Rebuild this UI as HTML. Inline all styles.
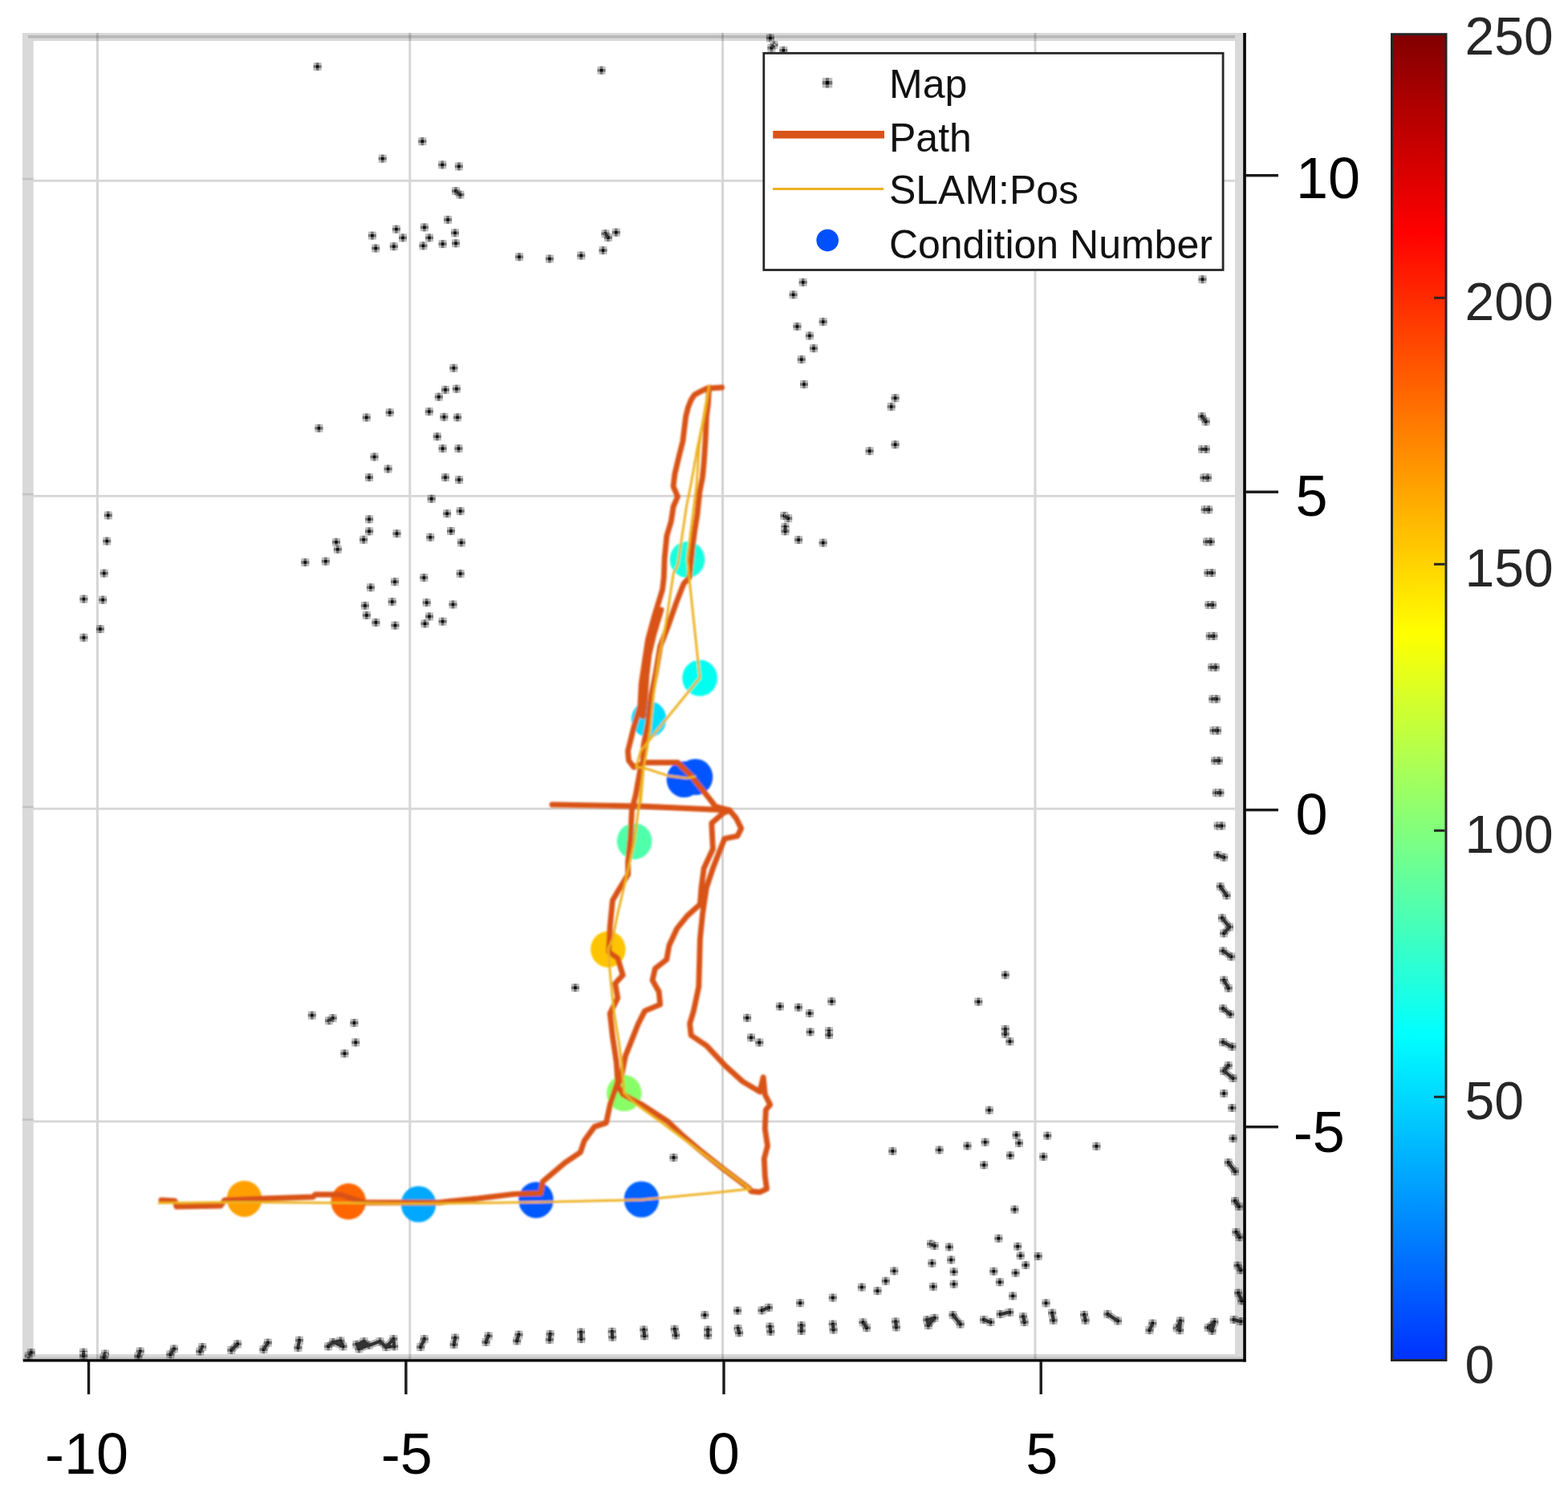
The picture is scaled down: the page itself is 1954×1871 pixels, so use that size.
<!DOCTYPE html><html><head><meta charset="utf-8"><style>html,body{margin:0;padding:0;background:#fff;overflow:hidden}svg{display:block}</style></head><body><svg width="1954" height="1871" viewBox="0 0 1954 1871">
<defs>
<linearGradient id="cb" gradientUnits="userSpaceOnUse" x1="0" y1="1699.3" x2="0" y2="39.3">
<stop offset="0" stop-color="#002fff"/>
<stop offset="0.2464" stop-color="#00ffff"/>
<stop offset="0.548" stop-color="#ffff00"/>
<stop offset="0.850" stop-color="#ff0000"/>
<stop offset="1" stop-color="#800000"/>
</linearGradient>
<g id="d"><rect x="-5" y="-5" width="10" height="10" fill="#c0c0c0"/><rect x="-5" y="-1.7" width="10" height="3.4" fill="#747474"/><rect x="-1.7" y="-5" width="3.4" height="10" fill="#747474"/><rect x="-1.7" y="-1.7" width="3.4" height="3.4" fill="#000"/></g>
<filter id="bl2" x="-2%" y="-2%" width="104%" height="104%"><feGaussianBlur stdDeviation="0.8"/></filter>
<filter id="bl" x="-5%" y="-5%" width="110%" height="110%"><feGaussianBlur stdDeviation="0.7"/></filter>
</defs>
<rect width="1954" height="1871" fill="#fff"/>
<rect x="28" y="41" width="13.7" height="1654" fill="#d9d9d9"/>
<rect x="28" y="41" width="1521" height="10" fill="#d9d9d9"/>
<rect x="35" y="44" width="1511" height="3.6" fill="#b8b8b8"/>
<rect x="1539" y="41" width="10" height="1654" fill="#d9d9d9"/>
<rect x="28" y="1688" width="1521" height="7" fill="#d9d9d9"/>
<rect x="28" y="1691.5" width="1521" height="3" fill="#c4c4c4"/>
<g style="mix-blend-mode:multiply">
<rect x="119.9" y="41" width="3" height="1653" fill="#d6d6d6"/>
<rect x="509.3" y="41" width="3" height="1653" fill="#d6d6d6"/>
<rect x="899.0" y="41" width="3" height="1653" fill="#d6d6d6"/>
<rect x="1288.5" y="41" width="3" height="1653" fill="#d6d6d6"/>
<rect x="41.7" y="223.9" width="1497.3" height="2.8" fill="#d6d6d6"/>
<rect x="28" y="221.8" width="13.7" height="2.6" fill="#e4e4e4"/>
<rect x="41.7" y="616.9" width="1497.3" height="2.8" fill="#d6d6d6"/>
<rect x="28" y="614.8" width="13.7" height="2.6" fill="#e4e4e4"/>
<rect x="41.7" y="1006.7" width="1497.3" height="2.8" fill="#d6d6d6"/>
<rect x="28" y="1004.6" width="13.7" height="2.6" fill="#e4e4e4"/>
<rect x="41.7" y="1396.5" width="1497.3" height="2.8" fill="#d6d6d6"/>
<rect x="28" y="1394.4" width="13.7" height="2.6" fill="#e4e4e4"/>
</g>
<g filter="url(#bl)" style="mix-blend-mode:multiply">
<path d="M568.0 238.1L573.4 242.7 M754.4 291.3L757.9 296.1 M964.5 56.1L961.4 59.7 M977.4 642.9L982.2 646.1 M978.5 656.8L978.5 662.2 M410.0 1272.3L414.7 1269.1 M1033.1 1285.2L1033.1 1290.1 M1252.8 1282.9L1252.8 1289.0 M35.7 1689.9L38.8 1686.0 M104.1 1685.6L104.1 1690.0 M131.0 1687.6L129.4 1692.0 M174.7 1684.5L172.4 1690.6 M216.9 1681.4L212.3 1688.3 M252.2 1679.1L249.2 1684.5 M296.0 1675.3L288.3 1683.0 M333.8 1673.7L328.4 1682.2 M373.0 1670.7L371.4 1679.9 M409.1 1678.3L415.2 1673.0 M415.2 1673.0L424.4 1671.4 M415.2 1673.0L427.5 1678.3 M424.4 1671.4L427.5 1678.3 M444.4 1676.0L453.6 1672.2 M444.4 1676.0L459.7 1676.8 M444.4 1676.0L447.4 1681.4 M453.6 1672.2L459.7 1676.8 M453.6 1672.2L447.4 1681.4 M459.7 1676.8L447.4 1681.4 M459.7 1676.8L473.5 1672.2 M473.5 1672.2L481.2 1679.1 M481.2 1679.1L490.4 1669.1 M481.2 1679.1L491.2 1678.3 M490.4 1669.1L491.2 1678.3 M528.8 1669.1L524.2 1679.1 M567.2 1667.6L565.7 1676.0 M608.7 1665.3L605.6 1673.0 M646.5 1663.7L644.2 1671.4 M685.6 1663.0L684.9 1669.9 M724.0 1660.6L724.3 1669.1 M762.7 1659.9L763.2 1666.8 M802.3 1657.6L803.1 1665.3 M840.7 1656.8L842.2 1664.5 M882.2 1657.6L882.2 1664.5 M949.5 1633.4L958.0 1629.9 M919.6 1656.0L921.1 1661.3 M959.5 1653.7L960.3 1659.8 M998.7 1652.1L998.7 1659.0 M1037.8 1650.6L1038.6 1657.5 M1075.4 1648.3L1080.0 1655.2 M1116.1 1647.5L1116.9 1654.4 M1155.3 1645.2L1156.8 1652.1 M1155.3 1645.2L1164.5 1642.9 M1156.8 1652.1L1164.5 1642.9 M1187.5 1639.1L1196.7 1650.6 M1160.0 1550.6L1164.6 1552.9 M1226.0 1645.0L1234.4 1648.1 M1246.7 1638.1L1258.2 1635.8 M1275.1 1641.2L1276.6 1648.1 M1311.2 1636.6L1312.7 1645.8 M1351.1 1638.9L1352.6 1645.8 M1380.3 1638.1L1393.0 1646.5 M1432.5 1658.1L1436.3 1649.6 M1530.7 1449.0L1539.0 1460.2 M1539.0 1497.0L1543.9 1503.9 M1540.4 1535.9L1544.6 1542.2 M1542.5 1577.6L1546.0 1583.2 M1543.2 1611.7L1547.3 1621.4 M1537.6 1645.0L1546.0 1647.1 M1470.9 1646.4L1466.7 1655.5 M1470.9 1646.4L1470.2 1658.2 M1466.7 1655.5L1470.2 1658.2 M1513.3 1647.8L1505.6 1654.8 M1513.3 1647.8L1510.5 1658.9 M1505.6 1654.8L1510.5 1658.9 M1517.4 1065.8L1525.2 1068.7 M1520.8 1105.0L1528.6 1116.3 M1523.0 1144.3L1532.0 1155.5 M1532.0 1155.5L1525.2 1163.4 M1524.1 1185.4L1534.2 1192.5 M1525.2 1221.7L1530.8 1231.8 M1524.1 1257.1L1533.1 1264.3 M1524.1 1299.1L1535.3 1304.7 M1530.8 1328.2L1525.2 1335.0 M1525.2 1335.0L1536.5 1344.0 M1497.8 519.1L1502.7 525.5 M1500.5 560.0L1498.2 560.0 M1500.5 560.0L1502.8 560.0 M1502.7 595.5L1500.4 595.5 M1502.7 595.5L1505.0 595.5 M1501.7 635.3L1506.3 635.3 M1504.1 675.3L1508.7 675.3 M1505.5 714.1L1510.1 714.1 M1506.4 754.1L1511.0 754.1 M1507.8 792.9L1512.4 792.9 M1510.2 831.8L1514.8 831.8 M1511.3 871.3L1515.9 871.3 M1512.5 910.6L1517.1 910.6 M1514.2 948.2L1518.8 948.2 M1515.8 988.2L1520.4 988.2 M1517.7 1029.4L1522.3 1029.4 M1498.2 560.0L1502.8 560.0 M1500.4 595.5L1505.0 595.5" stroke="#b4b4b4" stroke-width="9" fill="none"/>
<use href="#d" x="395.6" y="83.0"/>
<use href="#d" x="526.3" y="176.2"/>
<use href="#d" x="476.7" y="197.7"/>
<use href="#d" x="551.2" y="205.4"/>
<use href="#d" x="571.9" y="207.4"/>
<use href="#d" x="568.0" y="238.1"/>
<use href="#d" x="573.4" y="242.7"/>
<use href="#d" x="558.1" y="273.9"/>
<use href="#d" x="528.9" y="283.4"/>
<use href="#d" x="493.9" y="285.7"/>
<use href="#d" x="463.9" y="293.7"/>
<use href="#d" x="502.0" y="296.4"/>
<use href="#d" x="567.0" y="290.3"/>
<use href="#d" x="535.0" y="296.4"/>
<use href="#d" x="468.2" y="309.5"/>
<use href="#d" x="490.8" y="307.2"/>
<use href="#d" x="527.4" y="306.4"/>
<use href="#d" x="551.6" y="304.1"/>
<use href="#d" x="568.0" y="303.3"/>
<use href="#d" x="647.1" y="320.2"/>
<use href="#d" x="749.5" y="87.7"/>
<use href="#d" x="754.4" y="291.3"/>
<use href="#d" x="757.9" y="296.1"/>
<use href="#d" x="767.8" y="289.7"/>
<use href="#d" x="751.5" y="312.1"/>
<use href="#d" x="724.2" y="318.6"/>
<use href="#d" x="684.9" y="322.6"/>
<use href="#d" x="959.9" y="47.4"/>
<use href="#d" x="964.5" y="56.1"/>
<use href="#d" x="961.4" y="59.7"/>
<use href="#d" x="976.3" y="62.8"/>
<use href="#d" x="1000.7" y="351.9"/>
<use href="#d" x="988.6" y="367.4"/>
<use href="#d" x="1025.7" y="401.1"/>
<use href="#d" x="993.4" y="407.0"/>
<use href="#d" x="1008.9" y="418.5"/>
<use href="#d" x="1014.0" y="434.2"/>
<use href="#d" x="998.8" y="448.1"/>
<use href="#d" x="1002.0" y="479.1"/>
<use href="#d" x="1115.6" y="496.2"/>
<use href="#d" x="1110.7" y="506.9"/>
<use href="#d" x="1083.6" y="562.2"/>
<use href="#d" x="1115.6" y="554.2"/>
<use href="#d" x="977.4" y="642.9"/>
<use href="#d" x="982.2" y="646.1"/>
<use href="#d" x="978.5" y="656.8"/>
<use href="#d" x="978.5" y="662.2"/>
<use href="#d" x="995.1" y="672.9"/>
<use href="#d" x="1025.7" y="676.6"/>
<use href="#d" x="565.4" y="458.8"/>
<use href="#d" x="555.0" y="485.9"/>
<use href="#d" x="568.9" y="484.7"/>
<use href="#d" x="546.8" y="494.7"/>
<use href="#d" x="534.8" y="513.0"/>
<use href="#d" x="553.4" y="519.8"/>
<use href="#d" x="570.1" y="520.3"/>
<use href="#d" x="485.7" y="514.2"/>
<use href="#d" x="456.7" y="520.4"/>
<use href="#d" x="397.4" y="533.8"/>
<use href="#d" x="544.8" y="544.2"/>
<use href="#d" x="551.6" y="559.1"/>
<use href="#d" x="571.5" y="559.1"/>
<use href="#d" x="466.5" y="569.5"/>
<use href="#d" x="483.6" y="584.5"/>
<use href="#d" x="460.0" y="595.1"/>
<use href="#d" x="555.0" y="595.1"/>
<use href="#d" x="572.1" y="598.0"/>
<use href="#d" x="537.7" y="621.8"/>
<use href="#d" x="557.1" y="640.2"/>
<use href="#d" x="573.7" y="637.1"/>
<use href="#d" x="460.1" y="647.2"/>
<use href="#d" x="460.1" y="662.3"/>
<use href="#d" x="494.5" y="665.1"/>
<use href="#d" x="562.0" y="662.0"/>
<use href="#d" x="536.2" y="669.7"/>
<use href="#d" x="574.9" y="676.4"/>
<use href="#d" x="453.1" y="672.7"/>
<use href="#d" x="419.0" y="675.8"/>
<use href="#d" x="420.8" y="684.8"/>
<use href="#d" x="380.3" y="701.0"/>
<use href="#d" x="405.8" y="699.7"/>
<use href="#d" x="573.7" y="715.1"/>
<use href="#d" x="528.3" y="720.0"/>
<use href="#d" x="492.0" y="725.2"/>
<use href="#d" x="461.9" y="732.3"/>
<use href="#d" x="488.7" y="750.1"/>
<use href="#d" x="454.9" y="755.0"/>
<use href="#d" x="531.7" y="751.1"/>
<use href="#d" x="564.5" y="753.5"/>
<use href="#d" x="456.8" y="767.0"/>
<use href="#d" x="468.4" y="775.9"/>
<use href="#d" x="492.4" y="779.6"/>
<use href="#d" x="535.0" y="768.5"/>
<use href="#d" x="529.5" y="777.4"/>
<use href="#d" x="551.6" y="774.7"/>
<use href="#d" x="134.8" y="642.4"/>
<use href="#d" x="133.2" y="674.5"/>
<use href="#d" x="129.7" y="714.6"/>
<use href="#d" x="104.4" y="746.7"/>
<use href="#d" x="128.1" y="747.7"/>
<use href="#d" x="124.9" y="784.1"/>
<use href="#d" x="104.4" y="794.8"/>
<use href="#d" x="388.8" y="1265.6"/>
<use href="#d" x="410.0" y="1272.3"/>
<use href="#d" x="414.7" y="1269.1"/>
<use href="#d" x="441.4" y="1275.0"/>
<use href="#d" x="443.2" y="1299.4"/>
<use href="#d" x="429.4" y="1313.2"/>
<use href="#d" x="931.1" y="1268.8"/>
<use href="#d" x="971.9" y="1254.5"/>
<use href="#d" x="995.0" y="1255.7"/>
<use href="#d" x="1008.9" y="1263.1"/>
<use href="#d" x="1036.4" y="1248.3"/>
<use href="#d" x="936.0" y="1293.4"/>
<use href="#d" x="946.3" y="1299.5"/>
<use href="#d" x="1009.7" y="1286.4"/>
<use href="#d" x="1033.1" y="1285.2"/>
<use href="#d" x="1033.1" y="1290.1"/>
<use href="#d" x="716.9" y="1231.2"/>
<use href="#d" x="839.5" y="1442.9"/>
<use href="#d" x="1252.8" y="1215.3"/>
<use href="#d" x="1219.3" y="1248.7"/>
<use href="#d" x="1252.8" y="1282.9"/>
<use href="#d" x="1252.8" y="1289.0"/>
<use href="#d" x="1258.4" y="1298.2"/>
<use href="#d" x="1232.8" y="1383.8"/>
<use href="#d" x="1112.3" y="1434.9"/>
<use href="#d" x="1170.6" y="1433.4"/>
<use href="#d" x="1205.5" y="1428.4"/>
<use href="#d" x="1227.7" y="1423.7"/>
<use href="#d" x="1266.6" y="1414.9"/>
<use href="#d" x="1270.0" y="1424.9"/>
<use href="#d" x="1258.9" y="1440.3"/>
<use href="#d" x="1226.2" y="1452.2"/>
<use href="#d" x="1305.3" y="1415.7"/>
<use href="#d" x="1300.3" y="1441.8"/>
<use href="#d" x="1366.4" y="1428.8"/>
<use href="#d" x="35.7" y="1689.9"/>
<use href="#d" x="38.8" y="1686.0"/>
<use href="#d" x="104.1" y="1685.6"/>
<use href="#d" x="104.1" y="1690.0"/>
<use href="#d" x="131.0" y="1687.6"/>
<use href="#d" x="129.4" y="1692.0"/>
<use href="#d" x="174.7" y="1684.5"/>
<use href="#d" x="172.4" y="1690.6"/>
<use href="#d" x="216.9" y="1681.4"/>
<use href="#d" x="212.3" y="1688.3"/>
<use href="#d" x="252.2" y="1679.1"/>
<use href="#d" x="249.2" y="1684.5"/>
<use href="#d" x="296.0" y="1675.3"/>
<use href="#d" x="288.3" y="1683.0"/>
<use href="#d" x="333.8" y="1673.7"/>
<use href="#d" x="328.4" y="1682.2"/>
<use href="#d" x="373.0" y="1670.7"/>
<use href="#d" x="371.4" y="1679.9"/>
<use href="#d" x="409.1" y="1678.3"/>
<use href="#d" x="415.2" y="1673.0"/>
<use href="#d" x="424.4" y="1671.4"/>
<use href="#d" x="427.5" y="1678.3"/>
<use href="#d" x="444.4" y="1676.0"/>
<use href="#d" x="453.6" y="1672.2"/>
<use href="#d" x="459.7" y="1676.8"/>
<use href="#d" x="447.4" y="1681.4"/>
<use href="#d" x="473.5" y="1672.2"/>
<use href="#d" x="481.2" y="1679.1"/>
<use href="#d" x="490.4" y="1669.1"/>
<use href="#d" x="491.2" y="1678.3"/>
<use href="#d" x="528.8" y="1669.1"/>
<use href="#d" x="524.2" y="1679.1"/>
<use href="#d" x="567.2" y="1667.6"/>
<use href="#d" x="565.7" y="1676.0"/>
<use href="#d" x="608.7" y="1665.3"/>
<use href="#d" x="605.6" y="1673.0"/>
<use href="#d" x="646.5" y="1663.7"/>
<use href="#d" x="644.2" y="1671.4"/>
<use href="#d" x="685.6" y="1663.0"/>
<use href="#d" x="684.9" y="1669.9"/>
<use href="#d" x="724.0" y="1660.6"/>
<use href="#d" x="724.3" y="1669.1"/>
<use href="#d" x="762.7" y="1659.9"/>
<use href="#d" x="763.2" y="1666.8"/>
<use href="#d" x="802.3" y="1657.6"/>
<use href="#d" x="803.1" y="1665.3"/>
<use href="#d" x="840.7" y="1656.8"/>
<use href="#d" x="842.2" y="1664.5"/>
<use href="#d" x="878.3" y="1639.2"/>
<use href="#d" x="882.2" y="1657.6"/>
<use href="#d" x="882.2" y="1664.5"/>
<use href="#d" x="919.1" y="1633.7"/>
<use href="#d" x="949.5" y="1633.4"/>
<use href="#d" x="958.0" y="1629.9"/>
<use href="#d" x="997.1" y="1624.2"/>
<use href="#d" x="1037.8" y="1617.6"/>
<use href="#d" x="1073.9" y="1604.5"/>
<use href="#d" x="1093.5" y="1609.1"/>
<use href="#d" x="1103.8" y="1596.8"/>
<use href="#d" x="1114.3" y="1584.3"/>
<use href="#d" x="1161.4" y="1574.6"/>
<use href="#d" x="1163.0" y="1603.8"/>
<use href="#d" x="1185.2" y="1570.4"/>
<use href="#d" x="1188.7" y="1585.3"/>
<use href="#d" x="1188.7" y="1600.7"/>
<use href="#d" x="919.6" y="1656.0"/>
<use href="#d" x="921.1" y="1661.3"/>
<use href="#d" x="959.5" y="1653.7"/>
<use href="#d" x="960.3" y="1659.8"/>
<use href="#d" x="998.7" y="1652.1"/>
<use href="#d" x="998.7" y="1659.0"/>
<use href="#d" x="1037.8" y="1650.6"/>
<use href="#d" x="1038.6" y="1657.5"/>
<use href="#d" x="1075.4" y="1648.3"/>
<use href="#d" x="1080.0" y="1655.2"/>
<use href="#d" x="1116.1" y="1647.5"/>
<use href="#d" x="1116.9" y="1654.4"/>
<use href="#d" x="1155.3" y="1645.2"/>
<use href="#d" x="1156.8" y="1652.1"/>
<use href="#d" x="1164.5" y="1642.9"/>
<use href="#d" x="1187.5" y="1639.1"/>
<use href="#d" x="1196.7" y="1650.6"/>
<use href="#d" x="1264.4" y="1507.6"/>
<use href="#d" x="1244.4" y="1543.7"/>
<use href="#d" x="1268.2" y="1553.7"/>
<use href="#d" x="1271.7" y="1565.2"/>
<use href="#d" x="1278.2" y="1577.0"/>
<use href="#d" x="1293.8" y="1565.9"/>
<use href="#d" x="1238.3" y="1584.7"/>
<use href="#d" x="1265.6" y="1586.7"/>
<use href="#d" x="1245.9" y="1598.2"/>
<use href="#d" x="1262.1" y="1615.4"/>
<use href="#d" x="1303.5" y="1624.3"/>
<use href="#d" x="1160.0" y="1550.6"/>
<use href="#d" x="1164.6" y="1552.9"/>
<use href="#d" x="1183.0" y="1554.4"/>
<use href="#d" x="1226.0" y="1645.0"/>
<use href="#d" x="1234.4" y="1648.1"/>
<use href="#d" x="1246.7" y="1638.1"/>
<use href="#d" x="1258.2" y="1635.8"/>
<use href="#d" x="1275.1" y="1641.2"/>
<use href="#d" x="1276.6" y="1648.1"/>
<use href="#d" x="1311.2" y="1636.6"/>
<use href="#d" x="1312.7" y="1645.8"/>
<use href="#d" x="1351.1" y="1638.9"/>
<use href="#d" x="1352.6" y="1645.8"/>
<use href="#d" x="1380.3" y="1638.1"/>
<use href="#d" x="1393.0" y="1646.5"/>
<use href="#d" x="1432.5" y="1658.1"/>
<use href="#d" x="1436.3" y="1649.6"/>
<use href="#d" x="1530.7" y="1449.0"/>
<use href="#d" x="1539.0" y="1460.2"/>
<use href="#d" x="1539.0" y="1497.0"/>
<use href="#d" x="1543.9" y="1503.9"/>
<use href="#d" x="1540.4" y="1535.9"/>
<use href="#d" x="1544.6" y="1542.2"/>
<use href="#d" x="1542.5" y="1577.6"/>
<use href="#d" x="1546.0" y="1583.2"/>
<use href="#d" x="1543.2" y="1611.7"/>
<use href="#d" x="1547.3" y="1621.4"/>
<use href="#d" x="1537.6" y="1645.0"/>
<use href="#d" x="1546.0" y="1647.1"/>
<use href="#d" x="1470.9" y="1646.4"/>
<use href="#d" x="1466.7" y="1655.5"/>
<use href="#d" x="1470.2" y="1658.2"/>
<use href="#d" x="1513.3" y="1647.8"/>
<use href="#d" x="1505.6" y="1654.8"/>
<use href="#d" x="1510.5" y="1658.9"/>
<use href="#d" x="1517.4" y="1065.8"/>
<use href="#d" x="1525.2" y="1068.7"/>
<use href="#d" x="1520.8" y="1105.0"/>
<use href="#d" x="1528.6" y="1116.3"/>
<use href="#d" x="1523.0" y="1144.3"/>
<use href="#d" x="1532.0" y="1155.5"/>
<use href="#d" x="1525.2" y="1163.4"/>
<use href="#d" x="1524.1" y="1185.4"/>
<use href="#d" x="1534.2" y="1192.5"/>
<use href="#d" x="1525.2" y="1221.7"/>
<use href="#d" x="1530.8" y="1231.8"/>
<use href="#d" x="1524.1" y="1257.1"/>
<use href="#d" x="1533.1" y="1264.3"/>
<use href="#d" x="1524.1" y="1299.1"/>
<use href="#d" x="1535.3" y="1304.7"/>
<use href="#d" x="1530.8" y="1328.2"/>
<use href="#d" x="1525.2" y="1335.0"/>
<use href="#d" x="1536.5" y="1344.0"/>
<use href="#d" x="1525.2" y="1363.0"/>
<use href="#d" x="1535.3" y="1381.0"/>
<use href="#d" x="1536.5" y="1419.1"/>
<use href="#d" x="1498.5" y="348.2"/>
<use href="#d" x="1497.8" y="519.1"/>
<use href="#d" x="1502.7" y="525.5"/>
<use href="#d" x="1500.5" y="560.0"/>
<use href="#d" x="1502.7" y="595.5"/>
<use href="#d" x="1501.7" y="635.3"/>
<use href="#d" x="1506.3" y="635.3"/>
<use href="#d" x="1504.1" y="675.3"/>
<use href="#d" x="1508.7" y="675.3"/>
<use href="#d" x="1505.5" y="714.1"/>
<use href="#d" x="1510.1" y="714.1"/>
<use href="#d" x="1506.4" y="754.1"/>
<use href="#d" x="1511.0" y="754.1"/>
<use href="#d" x="1507.8" y="792.9"/>
<use href="#d" x="1512.4" y="792.9"/>
<use href="#d" x="1510.2" y="831.8"/>
<use href="#d" x="1514.8" y="831.8"/>
<use href="#d" x="1511.3" y="871.3"/>
<use href="#d" x="1515.9" y="871.3"/>
<use href="#d" x="1512.5" y="910.6"/>
<use href="#d" x="1517.1" y="910.6"/>
<use href="#d" x="1514.2" y="948.2"/>
<use href="#d" x="1518.8" y="948.2"/>
<use href="#d" x="1515.8" y="988.2"/>
<use href="#d" x="1520.4" y="988.2"/>
<use href="#d" x="1517.7" y="1029.4"/>
<use href="#d" x="1522.3" y="1029.4"/>
<use href="#d" x="1498.2" y="560.0"/>
<use href="#d" x="1502.8" y="560.0"/>
<use href="#d" x="1500.4" y="595.5"/>
<use href="#d" x="1505.0" y="595.5"/>
<path d="M568.0 238.1L573.4 242.7 M754.4 291.3L757.9 296.1 M964.5 56.1L961.4 59.7 M977.4 642.9L982.2 646.1 M978.5 656.8L978.5 662.2 M410.0 1272.3L414.7 1269.1 M1033.1 1285.2L1033.1 1290.1 M1252.8 1282.9L1252.8 1289.0 M35.7 1689.9L38.8 1686.0 M104.1 1685.6L104.1 1690.0 M131.0 1687.6L129.4 1692.0 M174.7 1684.5L172.4 1690.6 M216.9 1681.4L212.3 1688.3 M252.2 1679.1L249.2 1684.5 M296.0 1675.3L288.3 1683.0 M333.8 1673.7L328.4 1682.2 M373.0 1670.7L371.4 1679.9 M409.1 1678.3L415.2 1673.0 M415.2 1673.0L424.4 1671.4 M415.2 1673.0L427.5 1678.3 M424.4 1671.4L427.5 1678.3 M444.4 1676.0L453.6 1672.2 M444.4 1676.0L459.7 1676.8 M444.4 1676.0L447.4 1681.4 M453.6 1672.2L459.7 1676.8 M453.6 1672.2L447.4 1681.4 M459.7 1676.8L447.4 1681.4 M459.7 1676.8L473.5 1672.2 M473.5 1672.2L481.2 1679.1 M481.2 1679.1L490.4 1669.1 M481.2 1679.1L491.2 1678.3 M490.4 1669.1L491.2 1678.3 M528.8 1669.1L524.2 1679.1 M567.2 1667.6L565.7 1676.0 M608.7 1665.3L605.6 1673.0 M646.5 1663.7L644.2 1671.4 M685.6 1663.0L684.9 1669.9 M724.0 1660.6L724.3 1669.1 M762.7 1659.9L763.2 1666.8 M802.3 1657.6L803.1 1665.3 M840.7 1656.8L842.2 1664.5 M882.2 1657.6L882.2 1664.5 M949.5 1633.4L958.0 1629.9 M919.6 1656.0L921.1 1661.3 M959.5 1653.7L960.3 1659.8 M998.7 1652.1L998.7 1659.0 M1037.8 1650.6L1038.6 1657.5 M1075.4 1648.3L1080.0 1655.2 M1116.1 1647.5L1116.9 1654.4 M1155.3 1645.2L1156.8 1652.1 M1155.3 1645.2L1164.5 1642.9 M1156.8 1652.1L1164.5 1642.9 M1187.5 1639.1L1196.7 1650.6 M1160.0 1550.6L1164.6 1552.9 M1226.0 1645.0L1234.4 1648.1 M1246.7 1638.1L1258.2 1635.8 M1275.1 1641.2L1276.6 1648.1 M1311.2 1636.6L1312.7 1645.8 M1351.1 1638.9L1352.6 1645.8 M1380.3 1638.1L1393.0 1646.5 M1432.5 1658.1L1436.3 1649.6 M1530.7 1449.0L1539.0 1460.2 M1539.0 1497.0L1543.9 1503.9 M1540.4 1535.9L1544.6 1542.2 M1542.5 1577.6L1546.0 1583.2 M1543.2 1611.7L1547.3 1621.4 M1537.6 1645.0L1546.0 1647.1 M1470.9 1646.4L1466.7 1655.5 M1470.9 1646.4L1470.2 1658.2 M1466.7 1655.5L1470.2 1658.2 M1513.3 1647.8L1505.6 1654.8 M1513.3 1647.8L1510.5 1658.9 M1505.6 1654.8L1510.5 1658.9 M1517.4 1065.8L1525.2 1068.7 M1520.8 1105.0L1528.6 1116.3 M1523.0 1144.3L1532.0 1155.5 M1532.0 1155.5L1525.2 1163.4 M1524.1 1185.4L1534.2 1192.5 M1525.2 1221.7L1530.8 1231.8 M1524.1 1257.1L1533.1 1264.3 M1524.1 1299.1L1535.3 1304.7 M1530.8 1328.2L1525.2 1335.0 M1525.2 1335.0L1536.5 1344.0 M1497.8 519.1L1502.7 525.5 M1500.5 560.0L1498.2 560.0 M1500.5 560.0L1502.8 560.0 M1502.7 595.5L1500.4 595.5 M1502.7 595.5L1505.0 595.5 M1501.7 635.3L1506.3 635.3 M1504.1 675.3L1508.7 675.3 M1505.5 714.1L1510.1 714.1 M1506.4 754.1L1511.0 754.1 M1507.8 792.9L1512.4 792.9 M1510.2 831.8L1514.8 831.8 M1511.3 871.3L1515.9 871.3 M1512.5 910.6L1517.1 910.6 M1514.2 948.2L1518.8 948.2 M1515.8 988.2L1520.4 988.2 M1517.7 1029.4L1522.3 1029.4 M1498.2 560.0L1502.8 560.0 M1500.4 595.5L1505.0 595.5" stroke="#303030" stroke-width="4" fill="none"/>
</g>
<g filter="url(#bl2)">
<ellipse cx="856.5" cy="697.5" rx="21.8" ry="22.6" fill="#14ffe0"/>
<ellipse cx="872.1" cy="845.2" rx="21.8" ry="22.6" fill="#00fff0"/>
<ellipse cx="808.6" cy="896.5" rx="21.8" ry="22.6" fill="#00dcff"/>
<ellipse cx="852.5" cy="971.5" rx="21.8" ry="22.6" fill="#0055ff"/>
<ellipse cx="866.5" cy="968.5" rx="21.8" ry="22.6" fill="#0055ff"/>
<ellipse cx="790.6" cy="1048.6" rx="21.8" ry="22.6" fill="#50ffaa"/>
<ellipse cx="757.8" cy="1183.3" rx="21.8" ry="22.6" fill="#ffc400"/>
<ellipse cx="777.8" cy="1362.7" rx="21.8" ry="22.6" fill="#88ff66"/>
<ellipse cx="668.0" cy="1495.8" rx="21.8" ry="22.6" fill="#0058ff"/>
<ellipse cx="799.4" cy="1495.0" rx="21.8" ry="22.6" fill="#0062ff"/>
<ellipse cx="521.5" cy="1501.0" rx="21.8" ry="22.6" fill="#00a8ff"/>
<ellipse cx="434.2" cy="1497.7" rx="21.8" ry="22.6" fill="#ff6600"/>
<ellipse cx="304.5" cy="1494.3" rx="21.8" ry="22.6" fill="#ffa000"/>
<polyline points="201.0,1496.0 218.0,1497.0 220.0,1504.0 275.0,1503.0 280.0,1496.0 330.0,1494.0 390.0,1492.0 393.0,1489.0 424.0,1489.0 454.0,1499.0 499.0,1499.0 548.0,1499.0 558.0,1497.6 595.0,1494.0 641.0,1488.4 673.6,1487.5 676.3,1472.8 704.0,1449.3 723.3,1436.4 728.1,1422.0 740.9,1404.4 755.4,1399.6 760.2,1377.1 769.8,1348.3 768.2,1324.2 763.4,1292.1 760.2,1263.3 769.8,1244.0 766.6,1226.0 776.2,1215.4 769.8,1194.5 758.6,1186.5 760.2,1154.5 763.4,1122.4 769.8,1111.2 782.6,1090.3 782.6,1074.3 785.8,1042.2 787.4,1010.2 792.2,990.9 798.6,955.7 801.4,950.5 802.0,929.2 807.5,901.4 811.7,866.7 817.2,838.9 822.8,805.6 832.5,780.6 842.2,752.8 851.9,727.8 859.0,719.8 863.6,677.2 865.4,663.5 869.0,640.8 871.8,613.6 875.4,595.4 877.2,577.2 879.0,550.0 880.4,518.8 882.5,502.8 883.5,484.0 899.5,483.0" fill="none" stroke="#d95319" stroke-width="6.9" stroke-linejoin="round" stroke-linecap="round"/>
<polyline points="884.0,483.0 878.8,485.1 873.4,487.8 865.4,492.1 861.2,498.5 857.4,508.1 854.7,518.8 852.1,540.2 850.9,550.0 846.3,568.2 840.9,590.9 839.1,606.3 844.5,619.0 839.1,631.7 836.3,649.9 830.9,668.1 828.2,695.3 827.3,719.7 825.6,734.7 815.8,766.7 807.5,797.2 803.3,825.0 799.2,852.8 797.8,880.6 789.4,908.3 782.5,936.1 783.5,948.0 789.8,956.2 804.3,950.5 844.7,950.5 862.0,967.8 885.0,996.6 891.6,1005.4 909.3,1010.2 917.3,1019.8 923.7,1032.6 918.9,1042.2 902.9,1045.4 896.5,1061.5 888.4,1082.3 880.4,1106.4 875.6,1138.4 872.4,1170.5 870.8,1229.8 864.4,1260.1 859.6,1276.1 861.2,1290.5 880.4,1303.4 904.2,1328.9 925.5,1348.1 946.9,1360.9 951.2,1342.8 953.3,1364.2 959.7,1377.0 954.4,1383.4 953.3,1406.9 956.5,1428.3 952.3,1444.3 953.3,1465.7 955.5,1481.8 946.9,1486.0 936.2,1485.0 934.1,1481.8 898.8,1455.0 872.1,1433.6 850.7,1415.5 832.3,1398.0 800.2,1377.1 776.2,1364.3 769.8,1353.1 774.6,1340.3 779.4,1316.2 789.0,1292.1 795.4,1276.1 803.5,1260.1 822.7,1252.1 821.1,1236.0 813.1,1222.0 816.3,1207.4 830.7,1196.1 833.9,1178.5 843.5,1157.7 856.4,1141.6 872.4,1127.2 874.0,1106.4 877.2,1082.3 888.4,1058.3 886.8,1026.2 901.3,1013.4 909.3,1010.2" fill="none" stroke="#d95319" stroke-width="6.9" stroke-linejoin="round" stroke-linecap="round"/>
<polyline points="688.0,1003.0 800.0,1005.0 909.0,1010.0" fill="none" stroke="#d95319" stroke-width="6.9" stroke-linejoin="round" stroke-linecap="round"/>
<polyline points="824.0,760.0 815.0,790.0 809.0,815.0 806.0,840.0 804.0,868.0 801.0,893.0" fill="none" stroke="#d95319" stroke-width="6.9" stroke-linejoin="round" stroke-linecap="round"/>
<polyline points="198.0,1499.4 304.0,1498.5 434.0,1499.5 521.0,1500.5 668.0,1498.5 800.0,1495.5 888.0,1487.0 934.9,1482.1 888.4,1447.0 856.4,1423.0 824.3,1399.0 792.2,1376.0 777.8,1362.7 774.6,1324.2 771.4,1300.2 765.0,1260.1 761.8,1229.8 757.8,1183.3 763.4,1170.5 769.8,1138.4 779.4,1098.4 790.6,1048.6 795.4,1010.2 801.9,957.0 832.3,966.9 856.0,970.0 866.0,968.0" fill="none" stroke="#edb120" stroke-width="3" stroke-linejoin="round" stroke-linecap="round"/>
<polyline points="883.6,481.4 880.4,502.8 876.7,524.1 873.4,540.2 871.0,560.0 868.1,604.5 863.6,640.8 859.0,677.2 856.5,697.0 858.9,720.8 872.1,845.0 833.1,892.8 798.5,936.0 792.7,956.2 801.9,957.0" fill="none" stroke="#edb120" stroke-width="3" stroke-linejoin="round" stroke-linecap="round"/>
<polyline points="882.0,490.0 875.0,530.0 869.0,559.1 860.9,604.5 855.4,631.7 850.0,668.1 844.5,704.4 839.4,713.9 829.7,777.8 821.4,818.0 814.4,866.7 810.3,908.3 804.7,943.0 801.9,957.0 798.5,999.5" fill="none" stroke="#edb120" stroke-width="3" stroke-linejoin="round" stroke-linecap="round"/>
</g>
<rect x="1549.2" y="41" width="3.6" height="1656.5" fill="#000"/>
<rect x="28.7" y="1694.2" width="1524" height="3.3" fill="#000"/>
<rect x="1552" y="217.0" width="41" height="3.4" fill="#1a1a1a"/>
<rect x="1552" y="611.5" width="41" height="3.4" fill="#1a1a1a"/>
<rect x="1552" y="1007.9" width="41" height="3.4" fill="#1a1a1a"/>
<rect x="1552" y="1403.0" width="41" height="3.4" fill="#1a1a1a"/>
<rect x="108.8" y="1697" width="3.4" height="41" fill="#1a1a1a"/>
<rect x="504.2" y="1697" width="3.4" height="41" fill="#1a1a1a"/>
<rect x="900.3" y="1697" width="3.4" height="41" fill="#1a1a1a"/>
<rect x="1295.5" y="1697" width="3.4" height="41" fill="#1a1a1a"/>
<g font-family="'Liberation Sans', Arial, Helvetica, sans-serif" font-size="72" fill="#000">
<text x="1615" y="247">10</text>
<text x="1614.4" y="643">5</text>
<text x="1614.4" y="1039.6">0</text>
<text x="1611.8" y="1435.6">-5</text>
<text x="108" y="1837" text-anchor="middle">-10</text>
<text x="506.7" y="1837.3" text-anchor="middle">-5</text>
<text x="901.7" y="1837.3" text-anchor="middle">0</text>
<text x="1298.3" y="1837.3" text-anchor="middle">5</text>
</g>
<rect x="951.8" y="66.3" width="572.3" height="270.2" fill="#fff" stroke="#262626" stroke-width="2.8"/>
<use href="#d" transform="translate(1031 103.2) scale(1.25)"/>
<rect x="963.3" y="163" width="138.7" height="9.6" fill="#d95319"/>
<rect x="963" y="234" width="138.2" height="3" fill="#edb120"/>
<circle cx="1031.2" cy="299.6" r="13.8" fill="#0050ff"/>
<g font-family="'Liberation Sans', Arial, Helvetica, sans-serif" font-size="50" fill="#111">
<text x="1108" y="121.6">Map</text>
<text x="1108" y="189.3">Path</text>
<text x="1107.9" y="254.2">SLAM:Pos</text>
<text x="1107.9" y="321.6">Condition Number</text>
</g>
<rect x="1734.5" y="42.7" width="67.5" height="1652.8" fill="url(#cb)" stroke="#262626" stroke-width="3"/>
<rect x="1787" y="369.8" width="13.5" height="3" fill="#262626"/>
<rect x="1787" y="701.8" width="13.5" height="3" fill="#262626"/>
<rect x="1787" y="1033.8" width="13.5" height="3" fill="#262626"/>
<rect x="1787" y="1365.8" width="13.5" height="3" fill="#262626"/>
<g font-family="'Liberation Sans', Arial, Helvetica, sans-serif" font-size="66" fill="#262626">
<text x="1825.5" y="67.7">250</text>
<text x="1825.5" y="399.3">200</text>
<text x="1825.5" y="731.3">150</text>
<text x="1825.5" y="1063.3">100</text>
<text x="1825.5" y="1395.3">50</text>
<text x="1825.5" y="1724.3">0</text>
</g>
</svg></body></html>
